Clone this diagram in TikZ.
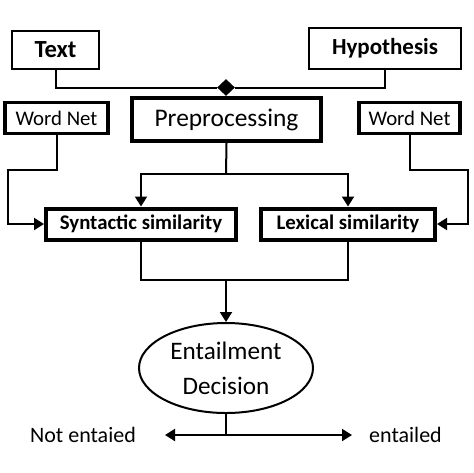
\documentclass[tikz,border=0pt]{standalone}
\usepackage{fontspec}
\setmainfont{Carlito}
\usetikzlibrary{arrows.meta,shapes.geometric}

\begin{document}
\begin{tikzpicture}[x=0.5pt,y=-0.5pt,
    inbox/.style={draw,line width=1pt,inner sep=0pt,font=\bfseries\fontsize{11.5}{13}\selectfont},
    heavybox/.style={draw,line width=2pt,inner sep=0pt},
    link/.style={line width=1pt},
    arr/.style={link,-{Triangle[length=5pt,width=6pt]}}]
  \useasboundingbox (0,0) rectangle (474,472);
  % inputs
  \node[inbox,minimum width=43.5pt,minimum height=19pt,font=\bfseries\fontsize{12.3}{14}\selectfont] (text) at (55.5,50) {Text};
  \node[inbox,minimum width=76pt,minimum height=20.5pt] (hyp) at (385,48.5) {Hypothesis};
  \node[fill,diamond,inner sep=0pt,minimum width=9pt,minimum height=8.5pt] (dia) at (226,87.5) {};
  \node[heavybox,minimum width=94.5pt,minimum height=21.5pt,font=\fontsize{12.7}{14}\selectfont] (prep) at (226.5,119.5) {Preprocessing};
  \node[heavybox,line width=1.8pt,minimum width=51.5pt,minimum height=15.5pt,font=\fontsize{10.4}{12}\selectfont] (wnl) at (56.5,118) {Word Net};
  \node[heavybox,line width=1.8pt,minimum width=50.5pt,minimum height=15.5pt,font=\fontsize{10.4}{12}\selectfont] (wnr) at (409.5,118) {Word Net};
  % similarity measures
  \node[heavybox,minimum width=95pt,minimum height=15.5pt,font=\bfseries\fontsize{10.4}{12}\selectfont] (syn) at (141,224) {Syntactic similarity};
  \node[heavybox,minimum width=87pt,minimum height=15.5pt,font=\bfseries\fontsize{10.4}{12}\selectfont] (lex) at (348,224) {Lexical similarity};
  \node[draw,ellipse,line width=1pt,inner sep=0pt,minimum width=87pt,minimum height=45pt,align=center,font=\fontsize{12.6}{17.5}\selectfont] (dec) at (226,368) {Entailment\\Decision};
  \node[font=\fontsize{11}{13}\selectfont] (notent) at (83,435) {Not entaied};
  \node[font=\fontsize{11}{13}\selectfont] (ent) at (405.5,435) {entailed};
  \coordinate (split) at (226,174);
  \coordinate (wl) at (8,170);
  \coordinate (wr) at (468,170);
  \coordinate (join) at (226,280);
  \coordinate (fork) at (226,435);
  \coordinate (nl) at (165,435);
  \coordinate (nr) at (352,435);
  % connectors
  \draw[link] (text.south) |- (dia.west);
  \draw[link] (hyp.south) |- (dia.east);
  \draw[link] (prep.south) -- (split);
  \draw[arr] (split) -| (syn.north);
  \draw[arr] (split) -| (lex.north);
  \draw[arr] (wnl.south) |- (wl) |- (syn.west);
  \draw[arr] (wnr.south) |- (wr) |- (lex.east);
  \draw[link] (syn.south) |- (join) -| (lex.south);
  \draw[arr] (join) -- (dec.north);
  \draw[link] (dec.south) -- (fork);
  \draw[arr] (fork) -- (nl);
  \draw[arr] (fork) -- (nr);
\end{tikzpicture}
\end{document}
